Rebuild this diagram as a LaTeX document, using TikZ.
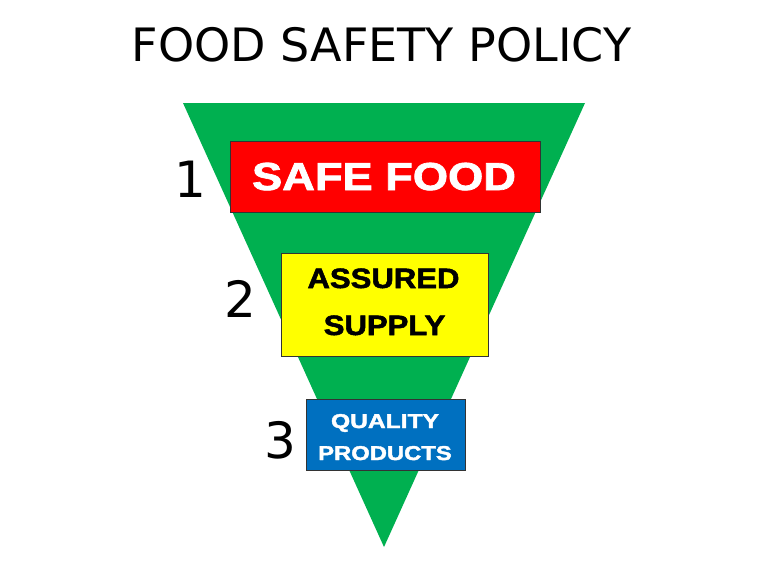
\documentclass[tikz,border=0pt]{standalone}
\usepackage{fontspec}
\usepackage{graphicx}
\setmainfont{DejaVu Sans}
\newfontfamily\boxfont{Liberation Sans}[BoldFont={* Bold}, BoldFeatures={FakeBold=1.8}]
\definecolor{trigreen}{HTML}{00B050}
\definecolor{boxred}{HTML}{FF0000}
\definecolor{boxyellow}{HTML}{FFFF00}
\definecolor{boxblue}{HTML}{0070C0}
\begin{document}
\begin{tikzpicture}[x=1pt,y=-1pt,
  box/.style={draw=black!80, line width=0.8pt, inner sep=0pt},
  numlabel/.style={anchor=base, font=\fontsize{50}{60}\selectfont, inner sep=0pt},
  boxtext/.style={anchor=base, inner sep=0pt}]
\useasboundingbox (0,0) rectangle (768,576);
\fill[white] (0,0) rectangle (768,576);
% title
\node[anchor=base, inner sep=0pt, font=\fontsize{46}{54}\selectfont] (title) at (381.5,61) {FOOD SAFETY POLICY};
% triangle
\coordinate (tl) at (183,103);
\coordinate (tr) at (585,103);
\coordinate (apex) at (384,547);
\fill[trigreen] (tl) -- (tr) -- (apex) -- cycle;
% boxes
\node[box, fill=boxred, minimum width=310, minimum height=71] (safe) at (385,176.5) {};
\node[box, fill=boxyellow, minimum width=207, minimum height=103] (assured) at (384.5,304.5) {};
\node[box, fill=boxblue, minimum width=159, minimum height=71] (quality) at (385.5,434.5) {};
% box texts
\node[boxtext, text=white, font=\boxfont\bfseries\fontsize{39}{45}\selectfont] (t1) at (384,190) {\scalebox{1.16}[1]{SAFE FOOD}};
\node[boxtext, text=black, font=\boxfont\bfseries\fontsize{28}{34}\selectfont] (t2a) at (383.5,288) {\scalebox{1.11}[1]{ASSURED}};
\node[boxtext, text=black, font=\boxfont\bfseries\fontsize{28}{34}\selectfont] (t2b) at (384.5,335) {\scalebox{1.11}[1]{SUPPLY}};
\node[boxtext, text=white, font=\boxfont\bfseries\fontsize{20}{24}\selectfont] (t3a) at (385,428) {\scalebox{1.23}[1]{QUALITY}};
\node[boxtext, text=white, font=\boxfont\bfseries\fontsize{20}{24}\selectfont] (t3b) at (385,460) {\scalebox{1.19}[1]{PRODUCTS}};
% numbers
\node[numlabel] (n1) at (190,197) {1};
\node[numlabel] (n2) at (240,317) {2};
\node[numlabel] (n3) at (280,458) {3};
\end{tikzpicture}
\end{document}
